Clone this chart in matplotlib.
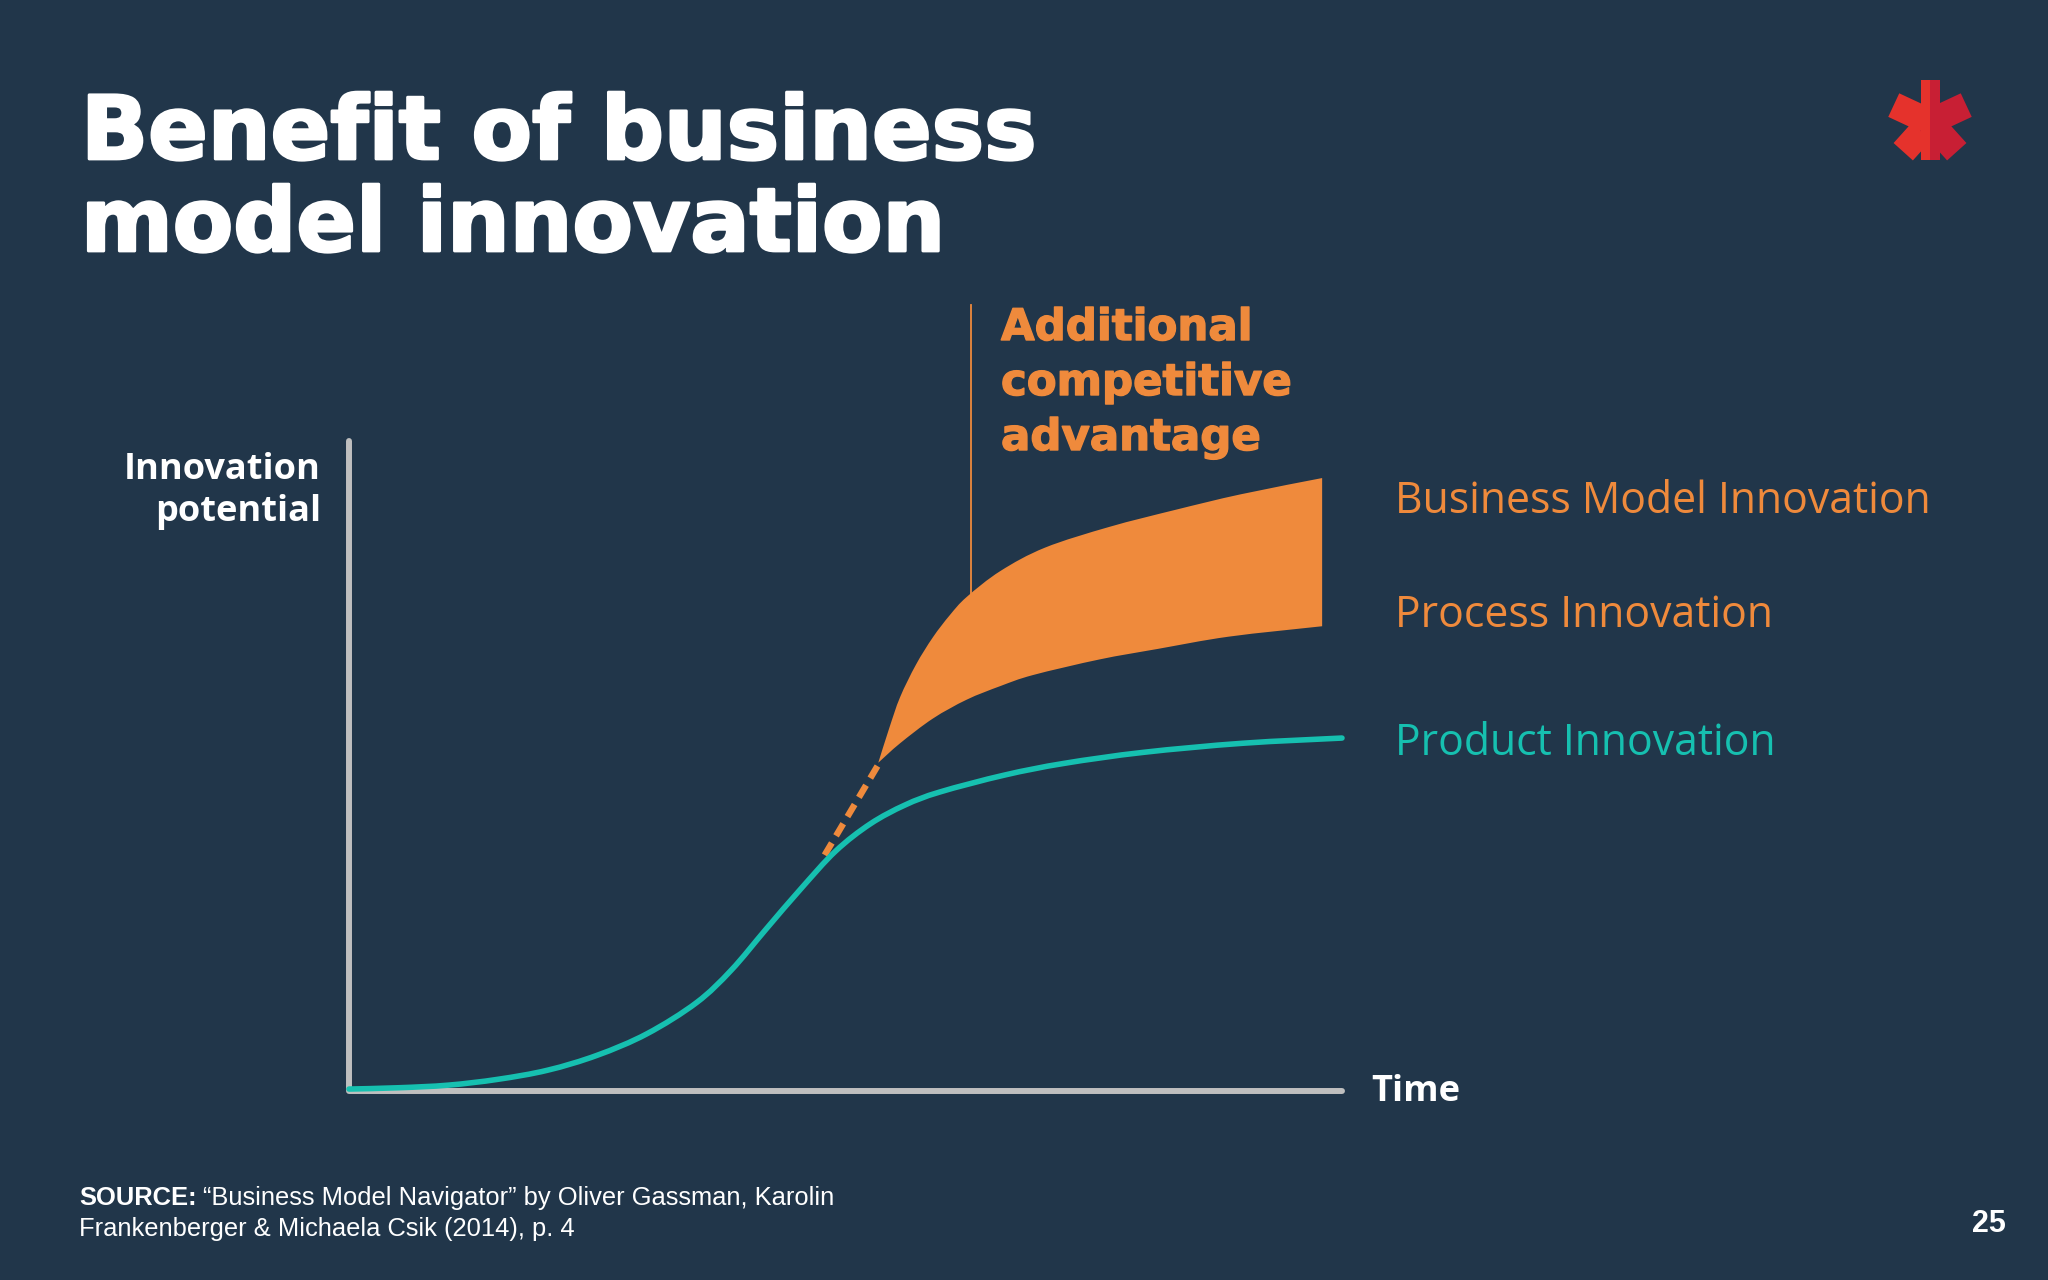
import matplotlib.pyplot as plt
import matplotlib.patches as mpatches
import matplotlib.patheffects as pe
from matplotlib.path import Path
from matplotlib.transforms import Affine2D
import numpy as np

# product innovation curve (time, innovation potential)
product_time = [0, 5, 10, 15, 20, 25, 30, 35, 38.5, 42, 45.5, 49, 52.5,
                56, 59.5, 66, 72, 80, 90, 100]
product_potential = [0.3, 0.5, 0.9, 1.8, 3.2, 5.5, 8.8, 13.6, 18.6, 24.9, 31.1, 36.9, 41.1,
                     44.0, 46.0, 48.6, 50.4, 52.1, 53.5, 54.3]

# business model innovation (upper edge of band)
bmi_time = [53.3, 54.4, 55.5, 57.1, 58.8, 60.5, 62.2, 65.6, 70.1, 76.6, 83.2, 89.8, 98.0]
bmi_potential = [50.5, 55.8, 60.6, 65.6, 69.8, 73.2, 76.0, 80.0, 83.6, 86.8, 89.4, 91.8, 94.3]

# process innovation (lower edge of band)
proc_time = [53.3, 55.5, 58.8, 62.2, 65.6, 68.9, 75.6, 81.4, 88.6, 98.0]
proc_potential = [50.5, 53.5, 57.3, 60.2, 62.3, 64.0, 66.4, 68.0, 69.9, 71.5]

# dashed extension
dash_time = [47.9, 53.3]
dash_potential = [36.3, 50.2]

advantage_time = 62.6
advantage_range = [76.5, 121.0]

series_labels = ["Business Model Innovation", "Process Innovation", "Product Innovation"]

bg = '#21364a'
orange = '#ef8a3c'
teal = '#16c0b0'
gray = '#bfbfbf'

W, H = 2048, 1280
fig = plt.figure(figsize=(W / 100, H / 100), dpi=100)
fig.patch.set_facecolor(bg)
renderer = fig.canvas.get_renderer()


def px(x, y):
    return x / W, 1 - y / H


def smooth(xs, ys):
    # catmull-rom through the read points, drawn as bezier segments
    p = np.column_stack([xs, ys]).astype(float)
    n = len(p)
    verts = [p[0]]
    codes = [Path.MOVETO]
    for i in range(n - 1):
        p0 = p[i - 1] if i > 0 else p[i]
        p3 = p[i + 2] if i + 2 < n else p[i + 1]
        verts += [p[i] + (p[i + 1] - p0) / 6, p[i + 1] - (p3 - p[i]) / 6, p[i + 1]]
        codes += [Path.CURVE4] * 3
    return verts, codes


def fit_size(s, target, **kw):
    t = fig.text(0, 0, s, fontsize=10, **kw)
    w = t.get_window_extent(renderer).width
    t.remove()
    return 10 * target / w


# chart area: axis corner at (349, 1091), top at 441, right at 1342
ax = fig.add_axes([349 / W, (H - 1091) / H, 993 / W, 650 / H])
ax.set_xlim(0, 100)
ax.set_ylim(0, 100)
ax.axis('off')

# axis lines
ax.plot([0, 0, 100], [100, 0, 0], color=gray, lw=4.3, solid_capstyle='round',
        solid_joinstyle='round', clip_on=False, zorder=1)

# band between business model and process innovation
tv, tc = smooth(bmi_time, bmi_potential)
bv, bc = smooth(proc_time[::-1], proc_potential[::-1])
bc[0] = Path.LINETO
band = Path(tv + bv + [bv[-1]], tc + bc + [Path.CLOSEPOLY])
ax.add_patch(mpatches.PathPatch(band, facecolor=orange, lw=0, clip_on=False, zorder=2))

ax.plot(dash_time, dash_potential, color=orange, lw=4.6, dashes=(2.2, 1.3),
        clip_on=False, zorder=3)

pv, pc = smooth(product_time, product_potential)
ax.add_patch(mpatches.PathPatch(Path(pv, pc), facecolor='none', edgecolor=teal, lw=4.0,
                                capstyle='round', clip_on=False, zorder=4))

ax.plot([advantage_time, advantage_time], advantage_range, color=orange, lw=1.3,
        clip_on=False, zorder=2)

# title
heavy = dict(family='DejaVu Sans', fontweight='bold')
ts = fit_size("Benefit of business", 955, **heavy)
stroke_w = [pe.withStroke(linewidth=2.0, foreground='white')]
fig.text(*px(81, 159), "Benefit of business", fontsize=ts, va='baseline', color='white',
         path_effects=stroke_w, **heavy)
fig.text(*px(81, 251), "model innovation", fontsize=ts, va='baseline', color='white',
         path_effects=stroke_w, **heavy)

# annotation
asz = fit_size("competitive", 290, **heavy)
stroke_o = [pe.withStroke(linewidth=1.0, foreground=orange)]
for s, yy in zip(["Additional", "competitive", "advantage"], [340, 395, 450]):
    fig.text(*px(1001, yy), s, fontsize=asz, va='baseline', color=orange,
             path_effects=stroke_o, **heavy)

# axis titles
lab_font = dict(family='Open Sans', fontweight='bold', color='white', fontsize=26)
fig.text(*px(321, 470), "Innovation", ha='right', va='center', **lab_font)
fig.text(*px(321, 512), "potential", ha='right', va='center', **lab_font)
fig.text(*px(1371, 1092), "Time", ha='left', va='center', **lab_font)

# series labels
label_y = [502, 616, 744]
label_colors = [orange, orange, teal]
for lbl, yy, cc in zip(series_labels, label_y, label_colors):
    fig.text(*px(1395, yy), lbl, ha='left', va='center', family='Open Sans',
             fontsize=30.8, color=cc)

# source
src_font = dict(family='Liberation Sans', color='white', fontsize=18.4)
t1 = fig.text(*px(79, 1198), "SOURCE:", ha='left', va='center', fontweight='bold', **src_font)
bb = t1.get_window_extent(renderer)
fig.text((bb.x1 + 6) / W, 1 - 1198 / H,
         "\u201cBusiness Model Navigator\u201d by Oliver Gassman, Karolin",
         ha='left', va='center', **src_font)
fig.text(*px(79, 1229), "Frankenberger & Michaela Csik (2014), p. 4", ha='left',
         va='center', **src_font)

fig.text(*px(2006, 1224), "25", ha='right', va='center', family='Liberation Sans',
         fontweight='bold', fontsize=22, color='white')

# logo: red asterisk
lax = fig.add_axes([1880 / W, 1 - 172 / H, 100 / W, 100 / H])
lax.set_xlim(-50, 50)
lax.set_ylim(-50, 50)
lax.set_aspect('equal')
lax.axis('off')
for ang, col in [(155, '#e5322c'), (-132, '#e5322c'), (25, '#c81f34'), (-48, '#c81f34')]:
    r = mpatches.Rectangle((0, -13), 40, 26, color=col, lw=0)
    r.set_transform(Affine2D().rotate_deg(ang) + lax.transData)
    lax.add_patch(r)
lax.add_patch(mpatches.Rectangle((-9.5, -38), 9.5, 80, color='#e5322c', lw=0))
lax.add_patch(mpatches.Rectangle((0, -38), 9.5, 80, color='#c81f34', lw=0))

fig.savefig('out.png', dpi=100, facecolor=bg)
